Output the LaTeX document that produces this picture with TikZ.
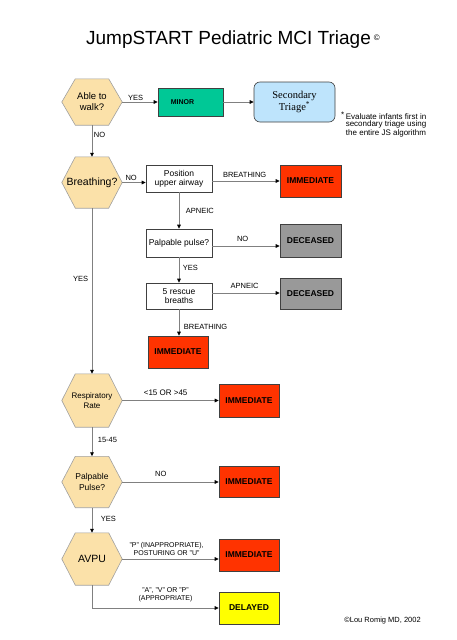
\documentclass[tikz,border=0pt]{standalone}
\usepackage{fontspec}
\setmainfont{Liberation Sans}
\newfontfamily\serifface{Liberation Serif}
\usetikzlibrary{arrows.meta,backgrounds}
\definecolor{hexfill}{HTML}{FBE1A9}
\definecolor{hexline}{HTML}{A0A0A0}
\definecolor{minorc}{HTML}{00C896}
\definecolor{secc}{HTML}{BEE4FC}
\definecolor{immc}{HTML}{FF3300}
\definecolor{decc}{HTML}{999999}
\definecolor{delc}{HTML}{FFFF00}
\definecolor{linec}{HTML}{808080}
\definecolor{boxline}{HTML}{404040}
\begin{document}
\begin{tikzpicture}[x=1pt,y=-1pt,
  hexa/.style={minimum width=60pt,inner sep=0pt,align=center},
  box/.style={draw=boxline,line width=0.6pt,inner sep=0pt,align=center,font=\fontsize{8.5}{9}\selectfont},
  wbox/.style={box,fill=white,minimum width=66pt},
  res/.style={box,minimum width=61pt,font=\bfseries\fontsize{8.5}{9}\selectfont},
  arr/.style={draw=linec,line width=0.8pt,-{Triangle[length=4pt,width=3.6pt,color=black]}},
  lbl/.style={font=\fontsize{7.5}{8}\selectfont,inner sep=1.5pt,align=center},
]
\useasboundingbox (0,0) rectangle (457,640);

% title
\node (title) at (233,40) {\fontsize{19}{22}\selectfont JumpSTART Pediatric MCI Triage\,\raisebox{4pt}{\fontsize{8}{8}\selectfont ©}};

% decisions
\node[hexa,minimum height=46pt,font=\fontsize{9.5}{11}\selectfont] (walk) at (92,102) {Able to\\walk?};
\node[hexa,minimum height=51pt,font=\fontsize{10.5}{12}\selectfont] (breath) at (92,182.5) {Breathing?};
\node[hexa,minimum height=53pt,font=\fontsize{8}{10}\selectfont] (rr) at (92,400.5) {Respiratory\\Rate};
\node[hexa,minimum height=51pt,font=\fontsize{8.5}{10.5}\selectfont] (ppul) at (92,482) {Palpable\\Pulse?};
\node[hexa,minimum height=52pt,font=\fontsize{10.5}{12}\selectfont] (avpu) at (92,559) {AVPU};

\begin{scope}[on background layer]
\foreach \n in {walk,breath,rr,ppul,avpu}
  \draw[draw=hexline,fill=hexfill,line width=0.6pt]
    (\n.west) -- ([xshift=13.5pt]\n.north west) -- ([xshift=-13.5pt]\n.north east)
    -- (\n.east) -- ([xshift=-13.5pt]\n.south east) -- ([xshift=13.5pt]\n.south west) -- cycle;
\end{scope}

% boxes
\node[res,fill=minorc,minimum width=65pt,minimum height=28pt,font=\bfseries\fontsize{7}{8}\selectfont] (minor) at (190.5,102) {MINOR\hspace*{16pt}};
\node[draw=boxline,line width=0.6pt,fill=secc,rounded corners=6pt,minimum width=81pt,minimum height=40pt,align=center,inner sep=0pt,font=\serifface\fontsize{10.5}{12}\selectfont] (sec) at (294.5,102) {Secondary\\Triage\textsuperscript{*}};
\node[font=\fontsize{8}{7.3}\selectfont,align=center,inner sep=0pt,
      label={[anchor=north east,inner sep=1pt,yshift=3pt,font=\fontsize{8}{8}\selectfont]north west:*}] (note) at (386,125.5) {Evaluate infants first in\\secondary triage using\\the entire JS algorithm};

\node[wbox,minimum height=27pt] (pos) at (179,178.5) {Position\\upper airway};
\node[res,fill=immc,minimum height=32pt] (imm1) at (310.5,181) {IMMEDIATE};
\node[wbox,minimum height=28pt] (pp) at (179,243) {Palpable pulse?};
\node[res,fill=decc,minimum height=33pt] (dec1) at (310.5,240.5) {DECEASED};
\node[wbox,minimum height=26pt] (rb) at (179,296) {5 rescue\\breaths};
\node[res,fill=decc,minimum height=31pt] (dec2) at (310.5,293.5) {DECEASED};
\node[res,fill=immc,minimum width=60pt,minimum height=32pt] (imm3) at (178,352) {IMMEDIATE};

\node[res,fill=immc,minimum width=60pt,minimum height=33pt] (imm4) at (249,400.5) {IMMEDIATE};
\node[res,fill=immc,minimum width=60pt,minimum height=31pt] (imm5) at (249,481.5) {IMMEDIATE};
\node[res,fill=immc,minimum width=60pt,minimum height=32pt] (imm6) at (249,555) {IMMEDIATE};
\node[res,fill=delc,minimum width=60pt,minimum height=32pt] (del) at (249,608) {DELAYED};

\node[font=\fontsize{7.5}{8}\selectfont,inner sep=0pt] (credit) at (382.5,621) {©Lou Romig MD, 2002};

% connectors
\draw[arr] (walk.east) -- node[lbl,above,pos=0.38] {YES} (minor.west);
\draw[arr] (minor.east) -- (sec.west);
\draw[arr] (walk.south) -- node[lbl,right,pos=0.3] {NO} (breath.north);
\draw[arr] (breath.east) -- node[lbl,above,pos=0.38] {NO} (breath.east -| pos.west);
\draw[arr] (pos.east |- imm1.west) -- node[lbl,above=2pt,pos=0.48] {BREATHING} (imm1.west);
\draw[arr] (pos.south) -- node[lbl,right=5pt,pos=0.5] {APNEIC} (pp.north);
\draw[arr] (pp.east) ++(0,3) coordinate (ppo) (ppo) -- node[lbl,above=3pt,pos=0.45] {NO} (ppo -| dec1.west);
\draw[arr] (pp.south) -- node[lbl,right=2pt,pos=0.42] {YES} (rb.north);
\draw[arr] (rb.east) ++(0,-3) coordinate (rbo) (rbo) -- node[lbl,above=3pt,pos=0.48] {APNEIC} (rbo -| dec2.west);
\draw[arr] (rb.south) -- node[lbl,right=3pt,pos=0.67] {BREATHING} (rb.south |- imm3.north);
\draw[arr] (breath.south) -- node[lbl,left=2pt,pos=0.43] {YES} (rr.north);
\draw[arr] (rr.east) -- node[lbl,above=3pt,pos=0.45,font=\fontsize{8}{9}\selectfont] {<15 OR >45} (rr.east -| imm4.west);
\draw[arr] (rr.south) -- node[lbl,right=4pt,pos=0.43] {15-45} (ppul.north);
\draw[arr] (ppul.east) -- node[lbl,above=4pt,pos=0.4] {NO} (ppul.east -| imm5.west);
\draw[arr] (ppul.south) -- node[lbl,right=7pt,pos=0.44] {YES} (avpu.north);
\draw[arr] (avpu.east) -- node[lbl,above=2pt,pos=0.46,font=\fontsize{7}{8}\selectfont] {"P" (INAPPROPRIATE),\\POSTURING OR "U"} (avpu.east -| imm6.west);
\draw[arr] (avpu.south) |- node[lbl,above=4pt,pos=0.79,font=\fontsize{7}{8}\selectfont] {"A", "V" OR "P"\\(APPROPRIATE)} (del.west);
\end{tikzpicture}
\end{document}
